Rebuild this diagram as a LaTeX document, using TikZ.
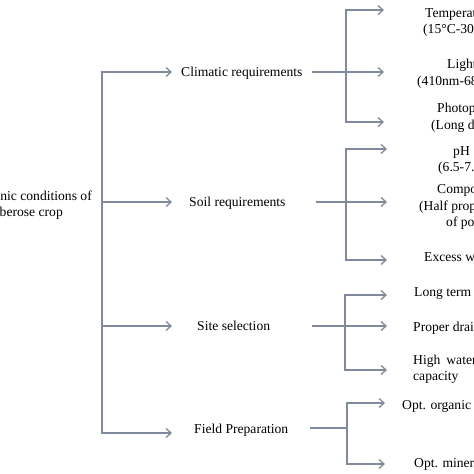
\documentclass[tikz,border=0pt]{standalone}
\usepackage{fontspec}
\setmainfont{Liberation Serif}
\usetikzlibrary{arrows.meta}
\definecolor{linec}{RGB}{128,138,156}
\begin{document}
\begin{tikzpicture}[x=1pt,y=-1pt,
  conn/.style={draw=linec,line width=1.3pt},
  arr/.style={conn,-{Straight Barb[length=5pt,width=9pt]}},
  lbl/.style={inner sep=0pt,anchor=base west,font=\fontsize{13.6}{16}\selectfont},
  lble/.style={lbl,anchor=base east}]
\useasboundingbox (0,0) rectangle (474,474);
\fill[white] (0,0) rectangle (474,474);
\clip (0,0) rectangle (474,474);
% root
\node[lble] (root1) at (92,200) {nic conditions of};
\node[lble] (root2) at (63,216) {berose crop};
% trunk
\coordinate (b1) at (102,72);
\coordinate (b2) at (102,202);
\coordinate (b3) at (102,326);
\coordinate (b4) at (102,433);
\coordinate (t1) at (172,72);
\coordinate (t2) at (172,202);
\coordinate (t3) at (172,326);
\coordinate (t4) at (172,433);
\draw[arr] (b2) |- (t1);
\draw[arr] (b2) -- (t2);
\draw[arr] (b2) |- (t4);
\draw[arr] (b3) -- (t3);
% categories
\node[lbl] (clim) at (181,76) {Climatic requirements};
\node[lbl] (soil) at (189,206) {Soil requirements};
\node[lbl] (site) at (197,330) {Site selection};
\node[lbl] (field) at (194,433) {Field Preparation};
% climatic group
\coordinate (cs) at (312,72);
\coordinate (cb) at (346,72);
\coordinate (ct1) at (384,10);
\coordinate (ct2) at (384,72);
\coordinate (ct3) at (384,122);
\draw[arr] (cs) -- (ct2);
\draw[arr] (cb) |- (ct1);
\draw[arr] (cb) |- (ct3);
% soil group
\coordinate (ss) at (316,202);
\coordinate (sb) at (346,202);
\coordinate (st1) at (387,149);
\coordinate (st2) at (387,202);
\coordinate (st3) at (387,260);
\draw[arr] (ss) -- (st2);
\draw[arr] (sb) |- (st1);
\draw[arr] (sb) |- (st3);
% site group
\coordinate (xs) at (312,326);
\coordinate (xb) at (345,326);
\coordinate (xt1) at (387,295);
\coordinate (xt2) at (387,326);
\coordinate (xt3) at (387,370);
\draw[arr] (xs) -- (xt2);
\draw[arr] (xb) |- (xt1);
\draw[arr] (xb) |- (xt3);
% field group
\coordinate (fs) at (310,428);
\coordinate (fb) at (347,428);
\coordinate (ft1) at (385,403);
\coordinate (ft3) at (385,464);
\draw[conn] (fs) -- (fb);
\draw[arr] (fb) |- (ft1);
\draw[arr] (fb) |- (ft3);
% leaves
\node[lbl] (temp1) at (425,17) {Temperat};
\node[lbl] (temp2) at (423,33) {(15°C-30};
\node[lbl] (light1) at (447,68) {Light};
\node[lbl] (light2) at (417,85) {(410nm-68};
\node[lbl] (photo1) at (437,112) {Photop};
\node[lbl] (photo2) at (431,129) {(Long d};
\node[lbl] (ph1) at (453,155) {pH};
\node[lbl] (ph2) at (438,171) {(6.5-7.};
\node[lbl] (comp1) at (437,193) {Compo};
\node[lbl] (comp2) at (419,210) {(Half prop};
\node[lbl] (comp3) at (446,226) {of po};
\node[lbl] (excess) at (424,261) {Excess w};
\node[lbl] (longt) at (414,296) {Long term};
\node[lbl] (proper) at (413,331) {Proper drai};
\node[lbl] (high1) at (413,364) {High\hspace{6pt}water};
\node[lbl] (high2) at (413,380) {capacity};
\node[lbl] (org) at (402,409) {Opt. organic};
\node[lbl] (minr) at (414,467) {Opt. minera};
\end{tikzpicture}
\end{document}
